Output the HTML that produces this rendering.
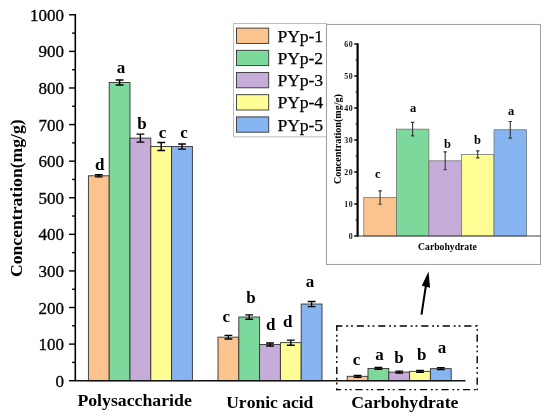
<!DOCTYPE html>
<html><head><meta charset="utf-8"><title>chart</title>
<style>
html,body{margin:0;padding:0;background:#fff;}
body{width:550px;height:418px;overflow:hidden;}
svg{display:block;}
text{font-kerning:none;font-family:"Liberation Serif",serif;fill:#000;}
.tk{font-size:17px;stroke:#000;stroke-width:0.3px;}
.b{font-weight:bold;}
.l{font-size:17px;}
.ax{font-size:17.7px;}
.ax1{font-size:17.75px;}
.ax2{font-size:17.55px;}
.ay{font-size:17.65px;}
.lg{font-size:17.7px;letter-spacing:-0.2px;stroke:#000;stroke-width:0.25px;}
.il{font-size:12.5px;}
.itk{font-size:7.9px;letter-spacing:0.55px;fill:#111;}
.iax{font-size:10.05px;}
.icl{font-size:9.7px;}
</style></head><body>
<svg width="550" height="418" viewBox="0 0 550 418">
<rect width="550" height="418" fill="#fff"/>
<rect x="88.40" y="175.80" width="20.80" height="204.90" fill="#FBC48F" stroke="#333" stroke-width="0.9"/>
<path d="M98.80 174.70V176.89M94.90 174.70h7.8M94.90 176.89h7.8" stroke="#000" stroke-width="1.4" fill="none"/>
<text x="99.70" y="170.20" text-anchor="middle" class="b l">d</text>
<rect x="109.20" y="82.49" width="20.80" height="298.21" fill="#7DD89B" stroke="#333" stroke-width="0.9"/>
<path d="M119.60 79.93V85.05M115.70 79.93h7.8M115.70 85.05h7.8" stroke="#000" stroke-width="1.4" fill="none"/>
<text x="121.10" y="73.20" text-anchor="middle" class="b l">a</text>
<rect x="130.00" y="138.11" width="20.80" height="242.59" fill="#C6ADD9" stroke="#333" stroke-width="0.9"/>
<path d="M140.40 134.08V142.13M136.50 134.08h7.8M136.50 142.13h7.8" stroke="#000" stroke-width="1.4" fill="none"/>
<text x="141.90" y="128.70" text-anchor="middle" class="b l">b</text>
<rect x="150.80" y="146.52" width="20.80" height="234.18" fill="#FFFD94" stroke="#333" stroke-width="0.9"/>
<path d="M161.20 142.50V150.55M157.30 142.50h7.8M157.30 150.55h7.8" stroke="#000" stroke-width="1.4" fill="none"/>
<text x="162.50" y="138.40" text-anchor="middle" class="b l">c</text>
<rect x="171.60" y="146.52" width="20.80" height="234.18" fill="#85B4F0" stroke="#333" stroke-width="0.9"/>
<path d="M182.00 143.96V149.09M178.10 143.96h7.8M178.10 149.09h7.8" stroke="#000" stroke-width="1.4" fill="none"/>
<text x="183.90" y="138.40" text-anchor="middle" class="b l">c</text>
<rect x="218.00" y="337.16" width="20.80" height="43.54" fill="#FBC48F" stroke="#333" stroke-width="0.9"/>
<path d="M228.40 335.33V338.99M224.50 335.33h7.8M224.50 338.99h7.8" stroke="#000" stroke-width="1.4" fill="none"/>
<text x="226.20" y="322.00" text-anchor="middle" class="b l">c</text>
<rect x="238.80" y="317.03" width="20.80" height="63.67" fill="#7DD89B" stroke="#333" stroke-width="0.9"/>
<path d="M249.20 314.84V319.23M245.30 314.84h7.8M245.30 319.23h7.8" stroke="#000" stroke-width="1.4" fill="none"/>
<text x="250.90" y="303.40" text-anchor="middle" class="b l">b</text>
<rect x="259.60" y="344.48" width="20.80" height="36.22" fill="#C6ADD9" stroke="#333" stroke-width="0.9"/>
<path d="M270.00 343.01V345.94M266.10 343.01h7.8M266.10 345.94h7.8" stroke="#000" stroke-width="1.4" fill="none"/>
<text x="270.70" y="329.60" text-anchor="middle" class="b l">d</text>
<rect x="280.40" y="342.65" width="20.80" height="38.05" fill="#FFFD94" stroke="#333" stroke-width="0.9"/>
<path d="M290.80 340.09V345.21M286.90 340.09h7.8M286.90 345.21h7.8" stroke="#000" stroke-width="1.4" fill="none"/>
<text x="287.80" y="327.10" text-anchor="middle" class="b l">d</text>
<rect x="301.20" y="304.04" width="20.80" height="76.66" fill="#85B4F0" stroke="#333" stroke-width="0.9"/>
<path d="M311.60 301.48V306.61M307.70 301.48h7.8M307.70 306.61h7.8" stroke="#000" stroke-width="1.4" fill="none"/>
<text x="309.90" y="287.10" text-anchor="middle" class="b l">a</text>
<rect x="347.20" y="376.31" width="20.80" height="4.39" fill="#FBC48F" stroke="#333" stroke-width="0.9"/>
<path d="M357.60 375.36V377.26M353.70 375.36h7.8M353.70 377.26h7.8" stroke="#000" stroke-width="1.4" fill="none"/>
<text x="356.40" y="365.30" text-anchor="middle" class="b l">c</text>
<rect x="368.00" y="368.44" width="20.80" height="12.26" fill="#7DD89B" stroke="#333" stroke-width="0.9"/>
<path d="M378.40 367.49V369.39M374.50 367.49h7.8M374.50 369.39h7.8" stroke="#000" stroke-width="1.4" fill="none"/>
<text x="379.60" y="359.80" text-anchor="middle" class="b l">a</text>
<rect x="388.80" y="372.10" width="20.80" height="8.60" fill="#C6ADD9" stroke="#333" stroke-width="0.9"/>
<path d="M399.20 371.15V373.05M395.30 371.15h7.8M395.30 373.05h7.8" stroke="#000" stroke-width="1.4" fill="none"/>
<text x="399.00" y="362.70" text-anchor="middle" class="b l">b</text>
<rect x="409.60" y="371.37" width="20.80" height="9.33" fill="#FFFD94" stroke="#333" stroke-width="0.9"/>
<path d="M420.00 370.42V372.32M416.10 370.42h7.8M416.10 372.32h7.8" stroke="#000" stroke-width="1.4" fill="none"/>
<text x="421.80" y="359.80" text-anchor="middle" class="b l">b</text>
<rect x="430.40" y="368.63" width="20.80" height="12.07" fill="#85B4F0" stroke="#333" stroke-width="0.9"/>
<path d="M440.80 367.67V369.58M436.90 367.67h7.8M436.90 369.58h7.8" stroke="#000" stroke-width="1.4" fill="none"/>
<text x="442.00" y="352.50" text-anchor="middle" class="b l">a</text>
<path d="M75.3 14.1V380.7" stroke="#000" stroke-width="1.6" fill="none"/>
<path d="M74.5 380.7H465.5" stroke="#111" stroke-width="1.4" fill="none"/>
<path d="M69.0 380.70H75.3" stroke="#000" stroke-width="1.4"/>
<text x="64" y="386.80" text-anchor="end" class="tk">0</text>
<path d="M72.1 362.40H75.3" stroke="#000" stroke-width="1.4"/>
<path d="M69.0 344.11H75.3" stroke="#000" stroke-width="1.4"/>
<text x="64" y="350.21" text-anchor="end" class="tk">100</text>
<path d="M72.1 325.81H75.3" stroke="#000" stroke-width="1.4"/>
<path d="M69.0 307.52H75.3" stroke="#000" stroke-width="1.4"/>
<text x="64" y="313.62" text-anchor="end" class="tk">200</text>
<path d="M72.1 289.23H75.3" stroke="#000" stroke-width="1.4"/>
<path d="M69.0 270.93H75.3" stroke="#000" stroke-width="1.4"/>
<text x="64" y="277.03" text-anchor="end" class="tk">300</text>
<path d="M72.1 252.63H75.3" stroke="#000" stroke-width="1.4"/>
<path d="M69.0 234.34H75.3" stroke="#000" stroke-width="1.4"/>
<text x="64" y="240.44" text-anchor="end" class="tk">400</text>
<path d="M72.1 216.04H75.3" stroke="#000" stroke-width="1.4"/>
<path d="M69.0 197.75H75.3" stroke="#000" stroke-width="1.4"/>
<text x="64" y="203.85" text-anchor="end" class="tk">500</text>
<path d="M72.1 179.45H75.3" stroke="#000" stroke-width="1.4"/>
<path d="M69.0 161.16H75.3" stroke="#000" stroke-width="1.4"/>
<text x="64" y="167.26" text-anchor="end" class="tk">600</text>
<path d="M72.1 142.86H75.3" stroke="#000" stroke-width="1.4"/>
<path d="M69.0 124.57H75.3" stroke="#000" stroke-width="1.4"/>
<text x="64" y="130.67" text-anchor="end" class="tk">700</text>
<path d="M72.1 106.27H75.3" stroke="#000" stroke-width="1.4"/>
<path d="M69.0 87.98H75.3" stroke="#000" stroke-width="1.4"/>
<text x="64" y="94.08" text-anchor="end" class="tk">800</text>
<path d="M72.1 69.69H75.3" stroke="#000" stroke-width="1.4"/>
<path d="M69.0 51.39H75.3" stroke="#000" stroke-width="1.4"/>
<text x="64" y="57.49" text-anchor="end" class="tk">900</text>
<path d="M72.1 33.09H75.3" stroke="#000" stroke-width="1.4"/>
<path d="M69.0 14.80H75.3" stroke="#000" stroke-width="1.4"/>
<text x="64" y="20.90" text-anchor="end" class="tk">1000</text>
<text transform="translate(21.9 198.2) rotate(-90)" text-anchor="middle" class="b ay">Concentration(mg/g)</text>
<text x="134.6" y="406.4" text-anchor="middle" class="b ax1">Polysaccharide</text>
<text x="269.8" y="408.3" text-anchor="middle" class="b ax2">Uronic acid</text>
<text x="404.9" y="408.4" text-anchor="middle" class="b ax">Carbohydrate</text>
<rect x="233.5" y="23.5" width="93" height="113.3" fill="#fff" stroke="#bdbdbd" stroke-width="1"/>
<rect x="236.5" y="28.10" width="32.2" height="15.3" fill="#FBC48F" stroke="#333" stroke-width="0.9"/>
<text x="277.6" y="41.80" class="lg">PYp-1</text>
<rect x="236.5" y="50.30" width="32.2" height="15.3" fill="#7DD89B" stroke="#333" stroke-width="0.9"/>
<text x="277.6" y="64.00" class="lg">PYp-2</text>
<rect x="236.5" y="72.50" width="32.2" height="15.3" fill="#C6ADD9" stroke="#333" stroke-width="0.9"/>
<text x="277.6" y="86.20" class="lg">PYp-3</text>
<rect x="236.5" y="94.70" width="32.2" height="15.3" fill="#FFFD94" stroke="#333" stroke-width="0.9"/>
<text x="277.6" y="108.40" class="lg">PYp-4</text>
<rect x="236.5" y="116.90" width="32.2" height="15.3" fill="#85B4F0" stroke="#333" stroke-width="0.9"/>
<text x="277.6" y="130.60" class="lg">PYp-5</text>
<rect x="326.5" y="24.5" width="214" height="240" fill="#fff" stroke="#a4a4a4" stroke-width="1.1"/>
<rect x="363.80" y="197.60" width="32.55" height="38.40" fill="#FBC48F" stroke="#6a6a6a" stroke-width="0.7"/>
<path d="M380.07 190.88V204.32M378.38 190.88h3.4M378.38 204.32h3.4" stroke="#383838" stroke-width="1.1" fill="none"/>
<text x="377.80" y="178.00" text-anchor="middle" class="b il">c</text>
<rect x="396.35" y="129.12" width="32.55" height="106.88" fill="#7DD89B" stroke="#6a6a6a" stroke-width="0.7"/>
<path d="M412.62 122.40V135.84M410.93 122.40h3.4M410.93 135.84h3.4" stroke="#383838" stroke-width="1.1" fill="none"/>
<text x="413.00" y="111.80" text-anchor="middle" class="b il">a</text>
<rect x="428.90" y="160.80" width="32.55" height="75.20" fill="#C6ADD9" stroke="#6a6a6a" stroke-width="0.7"/>
<path d="M445.17 151.84V169.76M443.47 151.84h3.4M443.47 169.76h3.4" stroke="#383838" stroke-width="1.1" fill="none"/>
<text x="447.60" y="148.00" text-anchor="middle" class="b il">b</text>
<rect x="461.45" y="154.40" width="32.55" height="81.60" fill="#FFFD94" stroke="#6a6a6a" stroke-width="0.7"/>
<path d="M477.72 150.88V157.92M476.02 150.88h3.4M476.02 157.92h3.4" stroke="#383838" stroke-width="1.1" fill="none"/>
<text x="477.40" y="144.00" text-anchor="middle" class="b il">b</text>
<rect x="494.00" y="129.76" width="32.55" height="106.24" fill="#85B4F0" stroke="#6a6a6a" stroke-width="0.7"/>
<path d="M510.27 121.44V138.08M508.57 121.44h3.4M508.57 138.08h3.4" stroke="#383838" stroke-width="1.1" fill="none"/>
<text x="511.00" y="115.00" text-anchor="middle" class="b il">a</text>
<path d="M357.6 236.0H541" stroke="#444" stroke-width="1" fill="none"/>
<path d="M357.6 43.30V236.6" stroke="#000" stroke-width="2.2" fill="none"/>
<path d="M354.20000000000005 236.00H357.6" stroke="#000" stroke-width="1.4"/>
<text x="353.3" y="238.80" text-anchor="end" class="b itk">0</text>
<path d="M355.6 220.00H357.6" stroke="#000" stroke-width="1"/>
<path d="M354.20000000000005 204.00H357.6" stroke="#000" stroke-width="1.4"/>
<text x="353.3" y="206.80" text-anchor="end" class="b itk">10</text>
<path d="M355.6 188.00H357.6" stroke="#000" stroke-width="1"/>
<path d="M354.20000000000005 172.00H357.6" stroke="#000" stroke-width="1.4"/>
<text x="353.3" y="174.80" text-anchor="end" class="b itk">20</text>
<path d="M355.6 156.00H357.6" stroke="#000" stroke-width="1"/>
<path d="M354.20000000000005 140.00H357.6" stroke="#000" stroke-width="1.4"/>
<text x="353.3" y="142.80" text-anchor="end" class="b itk">30</text>
<path d="M355.6 124.00H357.6" stroke="#000" stroke-width="1"/>
<path d="M354.20000000000005 108.00H357.6" stroke="#000" stroke-width="1.4"/>
<text x="353.3" y="110.80" text-anchor="end" class="b itk">40</text>
<path d="M355.6 92.00H357.6" stroke="#000" stroke-width="1"/>
<path d="M354.20000000000005 76.00H357.6" stroke="#000" stroke-width="1.4"/>
<text x="353.3" y="78.80" text-anchor="end" class="b itk">50</text>
<path d="M355.6 60.00H357.6" stroke="#000" stroke-width="1"/>
<path d="M354.20000000000005 44.00H357.6" stroke="#000" stroke-width="1.4"/>
<text x="353.3" y="46.80" text-anchor="end" class="b itk">60</text>
<text transform="translate(341.0 139.1) rotate(-90)" text-anchor="middle" class="b iax">Concentration(mg/g)</text>
<text x="447.4" y="249.6" text-anchor="middle" class="b icl">Carbohydrate</text>
<g fill="none" stroke="#000" stroke-width="1.4" stroke-dasharray="7.2 3.8 1.9 2.9 1.9 3.8">
<path d="M336.1 326H477.9" stroke-dashoffset="0.9"/>
<path d="M336.1 389.6H477.9" stroke-dashoffset="2.2"/>
<path d="M336.8 325.3V390.3" stroke-dashoffset="1.5"/>
<path d="M477.2 325.3V390.3" stroke-dashoffset="12.2"/>
</g>
<path d="M421.5 314.6L426.0 285" stroke="#000" stroke-width="2" fill="none"/>
<path d="M428.5 271.4L430.1 287.8L421.8 285.7Z" fill="#000"/>
</svg>
</body></html>
